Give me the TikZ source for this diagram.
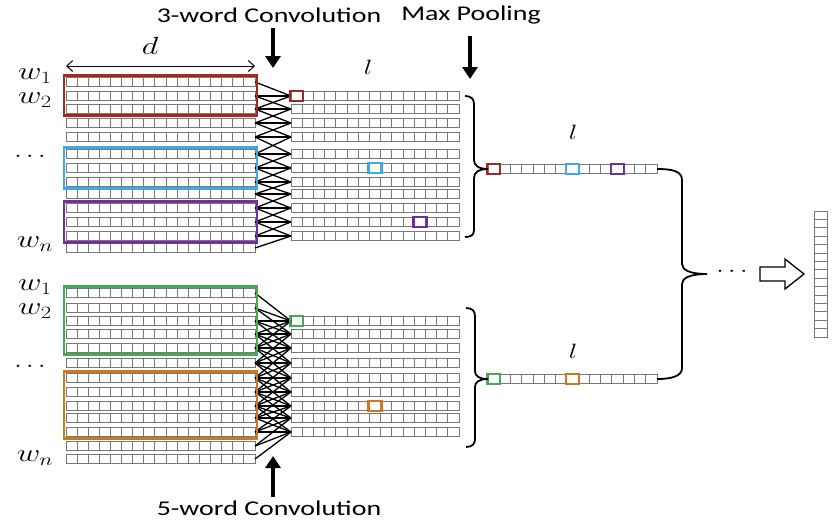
\documentclass[tikz,border=0pt]{standalone}
\usepackage{graphicx}
\usepackage{fontspec}
\setmainfont{Carlito}
\newfontfamily\headfont[FakeStretch=1.33]{Carlito}
\usetikzlibrary{arrows.meta,fit}

\definecolor{winred}{RGB}{165,40,30}
\definecolor{winblue}{RGB}{65,170,225}
\definecolor{winpurple}{RGB}{112,48,160}
\definecolor{wingreen}{RGB}{70,170,80}
\definecolor{winorange}{RGB}{205,120,30}
\definecolor{cellgray}{RGB}{120,120,120}

\newcommand{\wider}[1]{\scalebox{1.3}[1]{#1}}

\begin{document}
\begin{tikzpicture}[x=1pt,y=-1pt,
    wordrow/.style={draw=cellgray,line width=0.9pt,fill=white,inner sep=0pt,outer sep=0pt,minimum width=189pt,minimum height=9pt},
    featrow/.style={wordrow,minimum width=168pt},
    poolrow/.style={wordrow,minimum width=169pt},
    cellsep/.style={draw=cellgray,line width=0.9pt},
    winbox/.style={draw,line width=2.4pt,inner sep=2pt},
    hitcell/.style={draw,line width=2.4pt,inner sep=0pt,minimum width=13pt,minimum height=10pt},
    convline/.style={black,line width=1.3pt},
    heading/.style={font=\headfont\fontsize{21}{25}\selectfont},
    sym/.style={font=\fontsize{22}{26}\selectfont,inner sep=0pt},
    bigsym/.style={font=\fontsize{25}{29}\selectfont,inner sep=0pt},
    bigarrow/.style={line width=3.6pt,-{Triangle[width=15pt,length=12pt]}},
    bracepath/.style={line width=1.8pt}]

    \useasboundingbox (0,0) rectangle (838,522);

    % titles and arrows
    \node[heading] (conv3) at (269,15) {3-word Convolution};
    \node[heading] (pool) at (471,15) {Max Pooling};
    \node[heading] (conv5) at (269,508) {5-word Convolution};

    \coordinate (c3top) at (273,28);
    \coordinate (c3tip) at (273,68);
    \draw[bigarrow] (c3top) -- (c3tip);
    \coordinate (mptop) at (470,36);
    \coordinate (mptip) at (470,79);
    \draw[bigarrow] (mptop) -- (mptip);
    \coordinate (c5bot) at (273,497);
    \coordinate (c5tip) at (273,456);
    \draw[bigarrow] (c5bot) -- (c5tip);

    \node[bigsym] (dlab) at (150,46) {\wider{$d$}};
    \coordinate (dleft) at (66,66);
    \coordinate (dright) at (255,66);
    \draw[line width=1pt,{Straight Barb[length=6pt,width=11pt]}-{Straight Barb[length=6pt,width=11pt]}] (dleft) -- (dright);

    % 3-word part
    \foreach \y [count=\i] in {82,96,109,123,137,154,168,182,194,208,222,236,248} {
        \node[wordrow] (tw\i) at (160.5,\y) {};
        \foreach \k in {1,...,16}
            \draw[cellsep] ([xshift=\k*11.118pt]tw\i.north west) -- ([xshift=\k*11.118pt]tw\i.south west);
    }
    \foreach \j in {1,...,11} {
        \pgfmathtruncatemacro\r{\j+1}
        \node[featrow] (tf\j) at (375,0 |- tw\r) {};
        \foreach \k in {1,...,14}
            \draw[cellsep] ([xshift=\k*11.2pt]tf\j.north west) -- ([xshift=\k*11.2pt]tf\j.south west);
        \foreach \m in {0,1,2} {
            \pgfmathtruncatemacro\s{\j+\m}
            \draw[convline] (tw\s.east) -- (tf\j.west);
        }
    }
    \node[winbox,draw=winred,fit=(tw1)(tw3)] (redwin) {};
    \node[winbox,draw=winblue,fit=(tw6)(tw8)] (bluewin) {};
    \node[winbox,draw=winpurple,fit=(tw10)(tw12)] (purplewin) {};
    \node[hitcell,draw=winred] (redhit) at ([xshift=5.6pt]tf1.west) {};
    \node[hitcell,draw=winblue] (bluehit) at ([xshift=84pt]tf6.west) {};
    \node[hitcell,draw=winpurple] (purplehit) at ([xshift=128.8pt]tf10.west) {};

    \node[bigsym] (tw1lab) at (35,76) {\wider{$w_1$}};
    \node[bigsym] (tw2lab) at (35,100) {\wider{$w_2$}};
    \node[sym] (tdots) at (30,157) {\wider{$\cdots$}};
    \node[bigsym] (tw13lab) at (35,244) {\wider{$w_n$}};
    \node[sym] (tflab) at (368,67) {\wider{$l$}};

    % 5-word part
    \foreach \y [count=\i] in {293,308,321,334,348,363,378,392,406,418,432,446,459} {
        \node[wordrow] (bw\i) at (160.5,\y) {};
        \foreach \k in {1,...,16}
            \draw[cellsep] ([xshift=\k*11.118pt]bw\i.north west) -- ([xshift=\k*11.118pt]bw\i.south west);
    }
    \foreach \j in {1,...,9} {
        \pgfmathtruncatemacro\r{\j+2}
        \node[featrow] (bf\j) at (375,0 |- bw\r) {};
        \foreach \k in {1,...,14}
            \draw[cellsep] ([xshift=\k*11.2pt]bf\j.north west) -- ([xshift=\k*11.2pt]bf\j.south west);
        \foreach \m in {0,...,4} {
            \pgfmathtruncatemacro\s{\j+\m}
            \draw[convline] (bw\s.east) -- (bf\j.west);
        }
    }
    \node[winbox,draw=wingreen,fit=(bw1)(bw5)] (greenwin) {};
    \node[winbox,draw=winorange,fit=(bw7)(bw11)] (orangewin) {};
    \node[hitcell,draw=wingreen] (greenhit) at ([xshift=5.6pt]bf1.west) {};
    \node[hitcell,draw=winorange] (orangehit) at ([xshift=84pt]bf7.west) {};

    \node[bigsym] (bw1lab) at (35,287) {\wider{$w_1$}};
    \node[bigsym] (bw2lab) at (35,311) {\wider{$w_2$}};
    \node[sym] (bdots) at (30,367) {\wider{$\cdots$}};
    \node[bigsym] (bw13lab) at (35,458) {\wider{$w_n$}};

    % pooled vectors
    \node[poolrow] (tpool) at (572.5,169) {};
    \node[poolrow] (bpool) at (572.5,379) {};
    \foreach \k in {1,...,14} {
        \draw[cellsep] ([xshift=\k*11.267pt]tpool.north west) -- ([xshift=\k*11.267pt]tpool.south west);
        \draw[cellsep] ([xshift=\k*11.267pt]bpool.north west) -- ([xshift=\k*11.267pt]bpool.south west);
    }
    \node[hitcell,draw=winred] (redmax) at ([xshift=5.63pt]tpool.west) {};
    \node[hitcell,draw=winblue] (bluemax) at ([xshift=84.5pt]tpool.west) {};
    \node[hitcell,draw=winpurple] (purplemax) at ([xshift=129.6pt]tpool.west) {};
    \node[hitcell,draw=wingreen] (greenmax) at ([xshift=5.63pt]bpool.west) {};
    \node[hitcell,draw=winorange] (orangemax) at ([xshift=84.5pt]bpool.west) {};
    \node[sym] (tplab) at (573,132) {\wider{$l$}};
    \node[sym] (bplab) at (573,351) {\wider{$l$}};

    % braces
    \draw[bracepath] (465,96) .. controls (471,96) and (474,99) .. (474,104) -- (474,160)
        .. controls (474,165) and (478,169) .. (tpool.west)
        .. controls (478,169) and (474,173) .. (474,178) -- (474,230)
        .. controls (474,235) and (471,237) .. (465,237);
    \draw[bracepath] (466,308) .. controls (472,308) and (475,311) .. (475,316) -- (475,371)
        .. controls (475,376) and (479,379) .. (bpool.west)
        .. controls (479,379) and (475,382) .. (475,387) -- (475,439)
        .. controls (475,444) and (472,447) .. (466,447);
    \draw[bracepath] (tpool.east) .. controls (672,169) and (682,171) .. (682,180) -- (682,264)
        .. controls (682,270) and (690,274) .. (707,274)
        .. controls (690,274) and (682,278) .. (682,284) -- (682,368)
        .. controls (682,376) and (672,379) .. (bpool.east);

    \node[sym] (rdots) at (732,272) {\wider{$\cdots$}};
    \draw[line width=1.3pt] (760,267) -- (785,267) -- (785,259) -- (804,274) -- (785,289) -- (785,281) -- (760,281) -- cycle;

    % output vector
    \node[wordrow,minimum width=13pt,minimum height=126pt] (outvec) at (820.5,274) {};
    \foreach \k in {1,...,14}
        \draw[cellsep] ([yshift=-\k*8.4pt]outvec.north west) -- ([yshift=-\k*8.4pt]outvec.north east);
\end{tikzpicture}
\end{document}
